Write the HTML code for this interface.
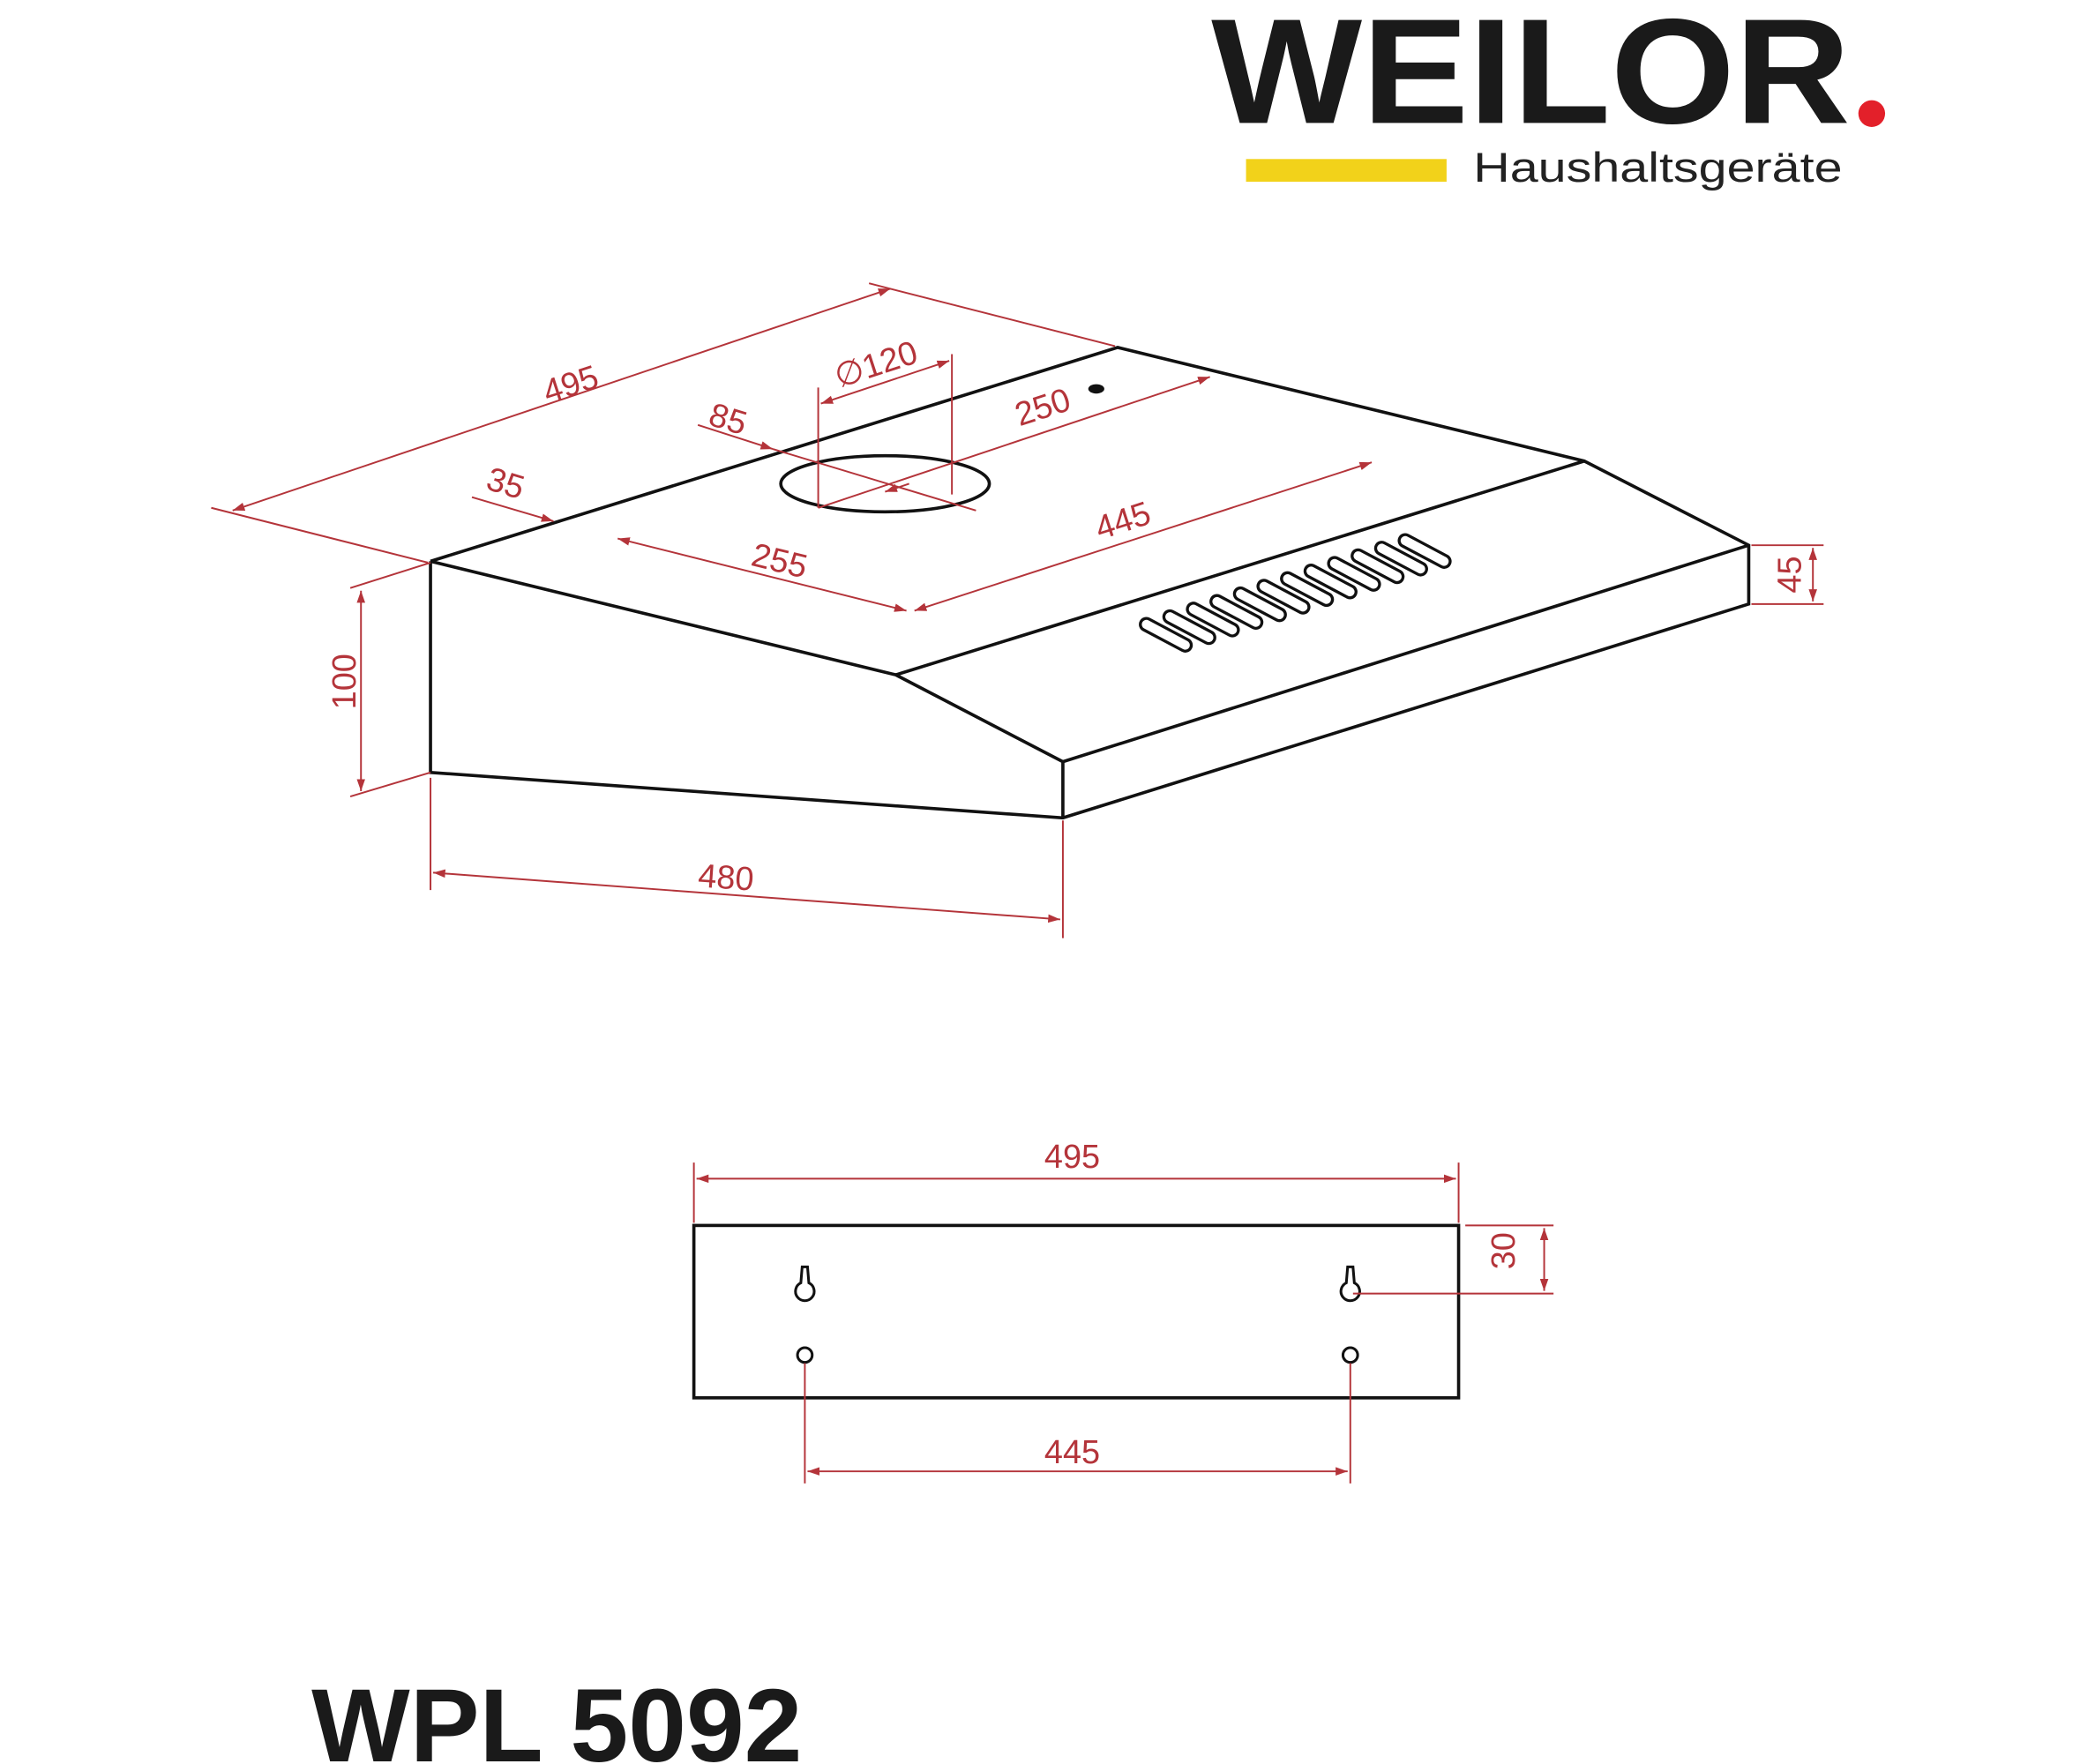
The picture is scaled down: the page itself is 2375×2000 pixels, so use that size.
<!DOCTYPE html>
<html><head><meta charset="utf-8"><style>
html,body{margin:0;padding:0;background:#fff;}
svg{display:block;}
text{font-family:"Liberation Sans",sans-serif;}
.r{stroke:#b4343a;stroke-width:1.3;fill:none;}
.k{stroke:#111;stroke-width:2.4;fill:none;}
.t{fill:#b4343a;font-size:25px;}
</style></head><body>
<svg width="2375" height="2000" viewBox="0 0 1567 1320" preserveAspectRatio="none" xmlns="http://www.w3.org/2000/svg">
<defs>
<marker id="a" viewBox="0 0 10 10" refX="10" refY="5" markerWidth="9" markerHeight="9" orient="auto-start-reverse" markerUnits="userSpaceOnUse"><path d="M0,1.5 L10,5 L0,8.5z" fill="#b4343a"/></marker>
</defs>
<rect width="1567" height="1320" fill="#fff"/>
<!-- logo -->
<text x="906" y="92" font-size="112" font-weight="bold" fill="#1a1a1a" textLength="478" lengthAdjust="spacingAndGlyphs">WEILOR</text>
<circle cx="1400" cy="85" r="10" fill="#e3202a"/>
<rect x="932" y="119" width="150" height="17" fill="#f2d21a"/>
<text x="1102" y="136" font-size="31" fill="#222" textLength="276" lengthAdjust="spacingAndGlyphs">Haushaltsgeräte</text>

<!-- hood outline -->
<g class="k">
<polyline points="322,420 836,260 1185,345 1308,408 1308,452 795,612 322,578 322,420"/>
<polyline points="322,420 670,505 795,570 795,612"/>
<line x1="670" y1="505" x2="1185" y2="345"/>
<line x1="795" y1="570" x2="1308" y2="408"/>
<ellipse cx="662" cy="362" rx="78" ry="21"/>
</g>
<ellipse cx="820" cy="291" rx="6" ry="3.5" fill="#111"/>
<g stroke="#111" stroke-width="2.2" fill="none">
<rect x="-21" y="-4.5" width="42" height="9" rx="4.5" transform="translate(872,475) rotate(28)"/>
<rect x="-21" y="-4.5" width="42" height="9" rx="4.5" transform="translate(889.6,469.3) rotate(28)"/>
<rect x="-21" y="-4.5" width="42" height="9" rx="4.5" transform="translate(907.2,463.6) rotate(28)"/>
<rect x="-21" y="-4.5" width="42" height="9" rx="4.5" transform="translate(924.8,457.9) rotate(28)"/>
<rect x="-21" y="-4.5" width="42" height="9" rx="4.5" transform="translate(942.4,452.2) rotate(28)"/>
<rect x="-21" y="-4.5" width="42" height="9" rx="4.5" transform="translate(960,446.5) rotate(28)"/>
<rect x="-21" y="-4.5" width="42" height="9" rx="4.5" transform="translate(977.6,440.8) rotate(28)"/>
<rect x="-21" y="-4.5" width="42" height="9" rx="4.5" transform="translate(995.2,435.1) rotate(28)"/>
<rect x="-21" y="-4.5" width="42" height="9" rx="4.5" transform="translate(1012.8,429.4) rotate(28)"/>
<rect x="-21" y="-4.5" width="42" height="9" rx="4.5" transform="translate(1030.4,423.7) rotate(28)"/>
<rect x="-21" y="-4.5" width="42" height="9" rx="4.5" transform="translate(1048,418) rotate(28)"/>
<rect x="-21" y="-4.5" width="42" height="9" rx="4.5" transform="translate(1065.6,412.3) rotate(28)"/>
</g>

<!-- dimensions top view -->
<g class="r">
<line x1="158" y1="380" x2="320" y2="421"/>
<line x1="650" y1="212" x2="834" y2="259"/>
<line x1="174" y1="382" x2="666" y2="216" marker-start="url(#a)" marker-end="url(#a)"/>
<line x1="612" y1="290" x2="612" y2="380"/>
<line x1="712" y1="265" x2="712" y2="370"/>
<line x1="614" y1="302" x2="710" y2="270" marker-start="url(#a)" marker-end="url(#a)"/>
<line x1="522" y1="318" x2="578" y2="336" marker-end="url(#a)"/>
<line x1="578" y1="336" x2="730" y2="382"/>
<line x1="612" y1="380" x2="905" y2="282" marker-end="url(#a)"/>
<line x1="680" y1="362" x2="662" y2="368" marker-end="url(#a)"/>
<line x1="353" y1="372" x2="414" y2="390" marker-end="url(#a)"/>
<line x1="462" y1="403" x2="678" y2="457" marker-start="url(#a)" marker-end="url(#a)"/>
<line x1="684" y1="457" x2="1026" y2="346" marker-start="url(#a)" marker-end="url(#a)"/>
<line x1="262" y1="440" x2="322" y2="421"/>
<line x1="262" y1="596" x2="322" y2="578"/>
<line x1="270" y1="442" x2="270" y2="592" marker-start="url(#a)" marker-end="url(#a)"/>
<line x1="322" y1="582" x2="322" y2="666"/>
<line x1="795" y1="614" x2="795" y2="702"/>
<line x1="324" y1="653" x2="793" y2="688" marker-start="url(#a)" marker-end="url(#a)"/>
<line x1="1310" y1="408" x2="1364" y2="408"/>
<line x1="1310" y1="452" x2="1364" y2="452"/>
<line x1="1356" y1="410" x2="1356" y2="450" marker-start="url(#a)" marker-end="url(#a)"/>
</g>
<g class="t">
<text x="427" y="296" text-anchor="middle" transform="rotate(-18 427 288)">495</text>
<text x="655" y="281" text-anchor="middle" transform="rotate(-18 655 272)">∅120</text>
<text x="545" y="322" text-anchor="middle" transform="rotate(17 545 312)">85</text>
<text x="780" y="313" text-anchor="middle" transform="rotate(-18 780 305)">250</text>
<text x="378" y="370" text-anchor="middle" transform="rotate(17 378 362)">35</text>
<text x="583" y="428" text-anchor="middle" transform="rotate(14 583 420)">255</text>
<text x="840" y="398" text-anchor="middle" transform="rotate(-18 840 390)">445</text>
<text x="258" y="518" text-anchor="middle" transform="rotate(-90 258 510)">100</text>
<text x="543" y="665" text-anchor="middle" transform="rotate(4 543 657)">480</text>
<text x="1338" y="439" text-anchor="middle" transform="rotate(-90 1338 430)">45</text>
</g>

<!-- bottom view -->
<rect x="519" y="917" width="572" height="129" class="k" stroke-width="2"/>
<g stroke="#111" stroke-width="2" fill="none">
<path d="M600,948 L599,960 A7,7 0 1 0 605,960 L604,948 Z"/>
<path d="M1008,948 L1007,960 A7,7 0 1 0 1013,960 L1012,948 Z"/>
<circle cx="602" cy="1014" r="5.5"/>
<circle cx="1010" cy="1014" r="5.5"/>
</g>
<g class="r">
<line x1="519" y1="870" x2="519" y2="915"/>
<line x1="1091" y1="870" x2="1091" y2="915"/>
<line x1="521" y1="882" x2="1089" y2="882" marker-start="url(#a)" marker-end="url(#a)"/>
<line x1="1096" y1="917" x2="1162" y2="917"/>
<line x1="1012" y1="968" x2="1162" y2="968"/>
<line x1="1155" y1="919" x2="1155" y2="966" marker-start="url(#a)" marker-end="url(#a)"/>
<line x1="602" y1="1020" x2="602" y2="1110"/>
<line x1="1010" y1="1020" x2="1010" y2="1110"/>
<line x1="604" y1="1101" x2="1008" y2="1101" marker-start="url(#a)" marker-end="url(#a)"/>
</g>
<g class="t">
<text x="802" y="874" text-anchor="middle">495</text>
<text x="1141" y="944" text-anchor="middle" transform="rotate(-90 1133 944)">30</text>
<text x="802" y="1095" text-anchor="middle">445</text>
</g>

<text x="233" y="1318" font-size="78" font-weight="bold" fill="#1a1a1a">WPL 5092</text>
</svg>
</body></html>
